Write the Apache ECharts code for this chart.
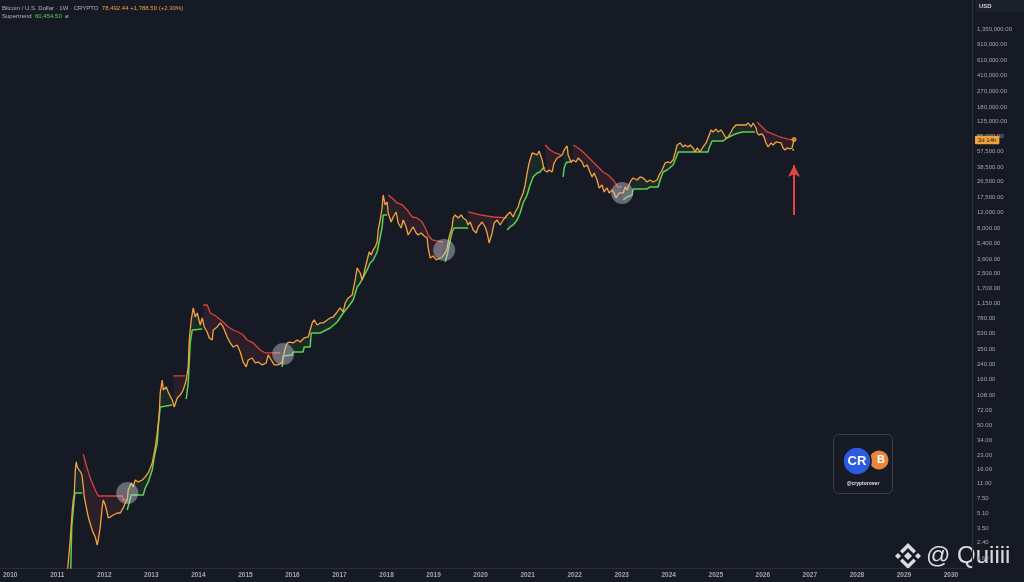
<!DOCTYPE html>
<html>
<head>
<meta charset="utf-8">
<script src="https://cdn.jsdelivr.net/npm/echarts@6/dist/echarts.min.js"></script>
<style>
html,body{margin:0;padding:0;background:#161a25;}
#chart{width:1024px;height:582px;}
</style>
</head>
<body>
<div id="chart"></div>
<script>
// ---------- DATA ----------
const symbolTitle = 'Bitcoin / U.S. Dollar · 1W · CRYPTO';
const lastClose = 78492.44;
const lastChange = '+1,788.50';
const lastChangePct = '(+2.30%)';
const supertrendLast = 60454.50;
const countdown = '3d 14h';

const yearTicks = [2010,2011,2012,2013,2014,2015,2016,2017,2018,2019,2020,2021,2022,2023,2024,2025,2026,2027,2028,2029,2030];
const priceTicks = [1.6,2.4,3.5,5.1,7.5,11,16,23,34,50,72,108,160,240,350,530,780,1150,1700,2500,3600,5400,8000,12000,17500,26500,38500,57500,85000,125000,180000,270000,410000,610000,910000,1350000];
const xRange = [2009.7886, 2030.4476];
const yRange = [1.25, 2866000];

// weekly close [decimal year, USD]
const priceWeekly = [
[2011.191,0.81],[2011.276,2.57],[2011.319,5.58],[2011.340,7.22],[2011.361,8.21],[2011.383,15.6],[2011.404,19.3],[2011.425,16.9],[2011.467,15.6],[2011.510,14.5],
[2011.531,13.1],[2011.553,10.1],[2011.574,7.80],[2011.616,6.03],[2011.659,4.65],[2011.723,3.60],[2011.765,3.09],[2011.808,2.78],[2011.850,2.26],[2011.871,2.57],
[2011.914,3.60],[2011.956,6.03],[2011.978,7.22],[2012.020,6.35],[2012.063,5.16],[2012.084,4.54],[2012.127,4.65],[2012.190,4.90],[2012.275,5.16],[2012.339,5.16],
[2012.403,5.88],[2012.446,6.69],[2012.488,7.22],[2012.509,9.34],[2012.573,11.2],[2012.615,10.1],[2012.658,12.1],[2012.722,11.5],[2012.807,12.1],[2012.870,13.1],
[2012.934,14.5],[2012.976,16.4],[2013.019,18.7],[2013.083,28.3],[2013.126,40.6],[2013.168,68.0],[2013.189,114],[2013.232,159],[2013.253,123],[2013.317,133],
[2013.359,117],[2013.402,105],[2013.444,95.1],[2013.487,79.4],[2013.551,100],[2013.614,108],[2013.678,123],[2013.742,159],[2013.784,223],[2013.806,447],
[2013.848,749],[2013.891,1020],[2013.933,808],[2013.976,896],[2014.039,658],[2014.082,788],[2014.124,625],[2014.188,549],[2014.231,471],[2014.294,447],
[2014.316,578],[2014.401,625],[2014.465,693],[2014.528,625],[2014.613,483],[2014.677,414],[2014.741,373],[2014.826,393],[2014.890,328],[2014.953,253],
[2015.017,223],[2015.060,267],[2015.145,281],[2015.208,247],[2015.272,253],[2015.357,235],[2015.442,247],[2015.485,304],[2015.548,267],[2015.612,235],
[2015.697,235],[2015.782,253],[2015.846,363],[2015.889,414],[2015.952,424],[2016.016,414],[2016.101,447],[2016.164,424],[2016.249,471],[2016.335,483],
[2016.420,693],[2016.462,749],[2016.526,658],[2016.590,693],[2016.654,693],[2016.739,749],[2016.802,788],[2016.866,808],[2016.951,920],[2017.015,1020],
[2017.079,920],[2017.121,1160],[2017.185,1320],[2017.270,1426],[2017.291,1623],[2017.334,2099],[2017.376,2861],[2017.440,2515],[2017.483,2099],[2017.504,2268],
[2017.546,2861],[2017.589,3516],[2017.631,4321],[2017.674,4000],[2017.716,4550],[2017.759,4916],[2017.801,5592],[2017.823,7621],[2017.865,9863],[2017.908,13790],
[2017.929,18790],[2017.971,14520],[2018.014,15690],[2018.035,11810],[2018.099,9367],[2018.141,10650],[2018.205,12120],[2018.248,9130],[2018.311,8025],[2018.354,9863],
[2018.418,8234],[2018.460,6699],[2018.524,7621],[2018.567,8234],[2018.630,7054],[2018.673,6699],[2018.737,7054],[2018.800,6529],[2018.864,6200],[2018.885,4791],
[2018.928,3702],[2018.970,3516],[2018.992,3898],[2019.055,3516],[2019.098,3608],[2019.183,3799],[2019.247,4212],[2019.289,4791],[2019.332,6362],[2019.395,8234],
[2019.417,10390],[2019.459,11220],[2019.523,10390],[2019.587,11220],[2019.629,10390],[2019.693,9863],[2019.736,8670],[2019.778,9367],[2019.842,7621],[2019.906,7054],
[2019.948,8234],[2020.033,9367],[2020.097,8234],[2020.139,7054],[2020.182,5450],[2020.246,7054],[2020.288,9130],[2020.352,9863],[2020.416,8670],[2020.479,9863],
[2020.564,11220],[2020.628,12120],[2020.692,10650],[2020.735,12120],[2020.798,13790],[2020.841,16520],[2020.904,19790],[2020.947,24320],[2020.990,33150],[2021.032,42890],
[2021.096,55500],[2021.138,56930],[2021.202,52710],[2021.245,58440],[2021.308,46340],[2021.351,35810],[2021.415,34010],[2021.457,35810],[2021.521,34010],[2021.563,42890],
[2021.627,48800],[2021.670,50050],[2021.733,52710],[2021.776,59960],[2021.840,66470],[2021.861,52710],[2021.925,44010],[2021.967,46340],[2022.031,44010],[2022.073,48800],
[2022.158,44010],[2022.201,38680],[2022.265,40730],[2022.307,35810],[2022.371,29900],[2022.414,33150],[2022.477,27670],[2022.520,22510],[2022.584,24320],[2022.626,20300],
[2022.690,22510],[2022.732,19790],[2022.796,21380],[2022.839,19790],[2022.881,17400],[2022.945,19790],[2023.030,19790],[2023.072,23100],[2023.115,21380],[2023.179,26280],
[2023.242,29140],[2023.327,27670],[2023.391,29900],[2023.455,29140],[2023.540,26280],[2023.604,27670],[2023.668,26280],[2023.753,27670],[2023.795,31480],[2023.859,35810],
[2023.923,42890],[2023.986,44010],[2024.029,42890],[2024.093,46340],[2024.135,55500],[2024.178,68200],[2024.241,71810],[2024.305,64770],[2024.348,68200],[2024.411,64770],
[2024.454,68200],[2024.518,63140],[2024.560,56930],[2024.603,63140],[2024.666,56930],[2024.730,64770],[2024.794,71810],[2024.836,81710],[2024.900,100400],[2024.943,95350],
[2025.007,103000],[2025.049,95350],[2025.113,100400],[2025.155,92950],[2025.219,81710],[2025.262,83830],[2025.325,95350],[2025.368,105700],[2025.432,114200],[2025.474,108500],
[2025.538,114200],[2025.580,108500],[2025.644,114200],[2025.687,120300],[2025.750,108500],[2025.793,120300],[2025.857,105700],[2025.878,92950],[2025.921,88270],[2025.984,90570],
[2026.027,83830],[2026.069,71810],[2026.112,64770],[2026.175,71810],[2026.218,68200],[2026.282,73700],[2026.324,77600],[2026.388,71810],[2026.431,63140],[2026.473,59960],
[2026.516,63140],[2026.579,61520],[2026.622,63140],[2026.664,78492.44]
];

// Supertrend, uptrend (green) segments
const supertrendUp = [
 [[2011.276,0.71],[2011.308,3.60],[2011.340,5.58],[2011.372,8.65],[2011.531,8.65]],
 [[2012.488,5.58],[2012.573,8.21],[2012.828,8.21],[2012.870,9.83],[2012.934,11.5],[2013.019,15.6],[2013.062,21.8],[2013.126,31.4],[2013.147,47.4],[2013.189,79.4],[2013.211,83.6],[2013.444,83.6]],
 [[2013.742,97.6],[2013.784,147.5],[2013.806,247],[2013.827,414],[2013.869,578],[2014.082,593]],
 [[2015.782,223],[2015.803,296],[2015.995,304],[2016.016,328],[2016.228,328],[2016.249,373],[2016.377,373],[2016.398,535],[2016.590,535],[2016.802,609],[2016.951,711],[2017.079,896],[2017.185,1047],[2017.291,1254],[2017.376,1753],[2017.440,1944],[2017.589,2717],[2017.653,3255],[2017.716,3516],[2017.801,4321],[2017.865,6362],[2017.908,8234],[2017.929,11220],[2018.014,11220]],
 [[2019.247,3339],[2019.289,4000],[2019.332,5176],[2019.395,7237],[2019.438,8025],[2019.736,8025]],
 [[2020.564,7621],[2020.628,8234],[2020.692,8670],[2020.777,9863],[2020.841,11810],[2020.904,15290],[2020.990,18790],[2021.032,22510],[2021.117,29900],[2021.202,33150],[2021.266,34010],[2021.330,37710],[2021.372,37710]],
 [[2021.755,29900],[2021.776,37710],[2021.818,42890],[2021.861,44010],[2021.946,44010]],
 [[2023.030,16520],[2023.115,17840],[2023.221,18790],[2023.242,21940],[2023.540,21940],[2023.604,23100],[2023.774,23100],[2023.817,27670],[2023.880,34010],[2023.965,35810],[2024.093,40730],[2024.178,52710],[2024.199,56930],[2024.836,56930],[2024.858,63140],[2024.922,75630],[2025.155,75630],[2025.240,81710],[2025.368,88270],[2025.474,92950],[2025.580,95350],[2025.835,95350]],
 [[2026.622,60454.5],[2026.664,60454.5]]
];
// Supertrend, downtrend (red) segments
const supertrendDown = [
 [[2011.553,23.6],[2011.616,17.8],[2011.680,13.8],[2011.744,11.2],[2011.808,9.34],[2011.871,8.0],[2012.382,8.0],[2012.403,7.22],[2012.488,7.22]],
 [[2013.465,176.7],[2013.721,176.7]],
 [[2014.103,1102],[2014.188,1102],[2014.252,896],[2014.337,851],[2014.422,788],[2014.528,711],[2014.634,625],[2014.741,578],[2014.847,549],[2014.953,508],[2015.038,447],[2015.166,414],[2015.251,373],[2015.315,345],[2015.421,320],[2015.740,320]],
 [[2018.035,18790],[2018.120,17400],[2018.226,15290],[2018.333,14520],[2018.439,12760],[2018.545,10650],[2018.652,10390],[2018.758,9367],[2018.822,8025],[2018.885,6699],[2018.970,5888],[2019.077,5738],[2019.204,5592]],
 [[2019.736,12120],[2019.991,11220],[2020.267,10650],[2020.564,10390]],
 [[2021.372,68200],[2021.478,59960],[2021.584,55500],[2021.712,52710]],
 [[2021.967,68200],[2022.073,63140],[2022.180,56930],[2022.286,50050],[2022.392,44010],[2022.498,38680],[2022.605,34010],[2022.711,31480],[2022.817,27670],[2022.924,23100],[2023.009,23100]],
 [[2025.878,123400],[2025.942,114200],[2026.006,105700],[2026.090,95350],[2026.154,92950],[2026.261,88270],[2026.367,83830],[2026.431,81710],[2026.516,79640],[2026.622,77600]]
];
// highlighted trend flips (circles)
const flipMarks = [[2012.488,8.65],[2015.803,312],[2019.226,4550],[2023.009,19790]];
// red arrow [year, from price, to price]
const arrowMark = [2026.664, 11220, 40730];

// ---------- COLORS ----------
const BG = '#161a25', ORANGE = '#f5a23f', GREEN = '#5cd150', RED = '#d6433e', AXIS_TXT = '#a3a6af', LINE = '#2a2e39';
const L = v => Math.log10(v);
const fmt = v => v.toLocaleString('en-US',{minimumFractionDigits:2, maximumFractionDigits:2});

const chart = echarts.init(document.getElementById('chart'), null, {renderer:'canvas'});

const allSegs = supertrendUp.map(s => ({s, up:true})).concat(supertrendDown.map(s => ({s, up:false})));

function segPolygon(o, api) {
  const seg = o.s;
  const t0 = seg[0][0], t1 = seg[seg.length-1][0];
  const top = seg.map(p => api.coord([p[0], L(p[1])]));
  const pr = [];
  priceWeekly.forEach(p => { if (p[0] >= t0 - 1e-6 && p[0] <= t1 + 1e-6) pr.push(api.coord([p[0], L(p[1])])); });
  return top.concat(pr.reverse());
}

const series = [];
series.push({
  type:'custom', silent:true, z:1, clip:true,
  dimensions:['x','y','i'], encode:{x:0, y:1},
  data: allSegs.map((o,i) => [o.s[0][0], L(o.s[0][1]), i]),
  renderItem: (params, api) => {
    const o = allSegs[api.value(2)];
    return {type:'polygon', shape:{points: segPolygon(o, api)},
      style:{fill: o.up ? 'rgba(76,175,80,0.10)' : 'rgba(255,82,82,0.10)'}};
  }
});
supertrendDown.forEach(seg => series.push({
  type:'line', silent:true, z:3, showSymbol:false, clip:true,
  data: seg.map(p => [p[0], L(p[1])]),
  lineStyle:{color:RED, width:1.3}
}));
supertrendUp.forEach(seg => series.push({
  type:'line', silent:true, z:3, showSymbol:false, clip:true,
  data: seg.map(p => [p[0], L(p[1])]),
  lineStyle:{color:GREEN, width:1.5}
}));
series.push({
  type:'line', silent:true, z:4, showSymbol:false, clip:true,
  data: priceWeekly.map(p => [p[0], L(p[1])]),
  lineStyle:{color:ORANGE, width:1.3}
});
// last-price tag (countdown) on the right axis
series.push({
  type:'line', silent:true, z:20, data:[],
  markLine:{
    silent:true, symbol:'none', animation:false,
    lineStyle:{color:'rgba(0,0,0,0)', width:0.1, type:'solid'},
    label:{show:true, position:'end', formatter: countdown, backgroundColor:'#eea33f', color:'#1b1b1b',
      fontSize:6, fontFamily:'Liberation Sans', padding:[1.5,3,1,3], borderRadius:1, distance:3},
    data:[{yAxis: L(lastClose)}]
  }
});
series.push({
  type:'scatter', silent:true, z:5, symbolSize:5,
  data:[[priceWeekly[priceWeekly.length-1][0], L(priceWeekly[priceWeekly.length-1][1])]],
  itemStyle:{color:ORANGE}
});
series.push({
  type:'scatter', silent:true, z:6, symbolSize:22,
  data: flipMarks.map(p => [p[0], L(p[1])]),
  itemStyle:{color:'rgba(205,208,216,0.55)'}
});
series.push({
  type:'line', silent:true, z:7, data:[],
  markLine:{
    silent:true, animation:false, symbol:['none','arrow'], symbolSize:[9,12],
    lineStyle:{color:'#e0463e', width:2, type:'solid'}, label:{show:false},
    data:[[{coord:[arrowMark[0], L(arrowMark[1])]},{coord:[arrowMark[0], L(arrowMark[2])]}]]
  }
});

const option = {
  backgroundColor: BG,
  animation:false,
  grid:{left:0, right:52, top:0, bottom:14, containLabel:false},
  xAxis:{
    type:'value', min:xRange[0], max:xRange[1],
    axisLine:{show:true, lineStyle:{color:LINE, width:1}},
    axisTick:{show:false}, splitLine:{show:false},
    axisLabel:{customValues: yearTicks, formatter: v => String(Math.round(v)),
      color:AXIS_TXT, fontSize:6.5, fontFamily:'Liberation Sans', fontWeight:'bold', margin:4}
  },
  yAxis:{
    type:'value', position:'right', min:L(yRange[0]), max:L(yRange[1]),
    axisLine:{show:true, lineStyle:{color:LINE, width:1}},
    axisTick:{show:false}, splitLine:{show:false},
    axisLabel:{customValues: priceTicks.map(L), formatter: v => fmt(Math.pow(10, v)),
      color:AXIS_TXT, fontSize:6, fontFamily:'Liberation Sans', margin:5, align:'left'}
  },
  series,
  graphic:[
    {type:'text', left:2, top:2, z:100, style:{
      text:'{a|' + symbolTitle + '} {b|' + fmt(lastClose) + ' ' + lastChange + ' ' + lastChangePct + '}',
      rich:{a:{fill:'#b2b5be', fontSize:6, fontFamily:'Liberation Sans'}, b:{fill:ORANGE, fontSize:6, fontFamily:'Liberation Sans'}}
    }},
    {type:'text', left:2, top:10, z:100, style:{
      text:'{a|Supertrend} {b|' + fmt(supertrendLast) + '} {a|ø}',
      rich:{a:{fill:'#b2b5be', fontSize:6, fontFamily:'Liberation Sans'}, b:{fill:GREEN, fontSize:6, fontFamily:'Liberation Sans'}}
    }},
    {type:'rect', shape:{x:976, y:0, width:48, height:12}, style:{fill:'#1c202b'}, z:100},
    {type:'text', x:979, y:3, z:101, style:{text:'USD', fill:'#d1d4dc', fontSize:6, fontWeight:'bold', fontFamily:'Liberation Sans'}},
    // logo
    {type:'rect', shape:{x:833.5, y:434.5, width:59, height:59, r:5}, style:{fill:'#171b26', stroke:'#3a3e49', lineWidth:1}, z:100},
    {type:'circle', shape:{cx:879, cy:460, r:9.5}, style:{fill:'#e8873a'}, z:101},
    {type:'text', x:881, y:460, z:102, style:{text:'B', fill:'#ffffff', fontSize:11, fontWeight:'bold', fontFamily:'Liberation Sans', align:'center', verticalAlign:'middle'}},
    {type:'circle', shape:{cx:857, cy:461, r:14}, style:{fill:'#2c5ae0', stroke:'#171b26', lineWidth:1.5}, z:103},
    {type:'text', x:857, y:461, z:104, style:{text:'CR', fill:'#ffffff', fontSize:13, fontWeight:'bold', fontFamily:'Liberation Sans', align:'center', verticalAlign:'middle'}},
    {type:'text', x:863, y:484, z:104, style:{text:'@cryptorover', fill:'#e6e6e6', fontSize:5, fontWeight:'bold', fontFamily:'Liberation Sans', align:'center', verticalAlign:'middle'}},
    // watermark
    {type:'group', z:110, children:[
      {type:'polygon', shape:{points:[[908,552],[912,556],[908,560],[904,556]]}, style:{fill:'rgba(235,235,235,0.92)'}},
      {type:'polygon', shape:{points:[[898,553],[901,556],[898,559],[895,556]]}, style:{fill:'rgba(235,235,235,0.92)'}},
      {type:'polygon', shape:{points:[[918,553],[921,556],[918,559],[915,556]]}, style:{fill:'rgba(235,235,235,0.92)'}},
      {type:'polygon', shape:{points:[[908,543],[916,551],[913.5,553.5],[908,548],[902.5,553.5],[900,551]]}, style:{fill:'rgba(235,235,235,0.92)'}},
      {type:'polygon', shape:{points:[[908,569],[916,561],[913.5,558.5],[908,564],[902.5,558.5],[900,561]]}, style:{fill:'rgba(235,235,235,0.92)'}},
      {type:'text', x:926, y:556, style:{text:'@ Quiiii', fill:'rgba(235,235,235,0.92)', fontSize:24, fontFamily:'Liberation Sans', verticalAlign:'middle'}}
    ]}
  ]
};
chart.setOption(option);
</script>
</body>
</html>
